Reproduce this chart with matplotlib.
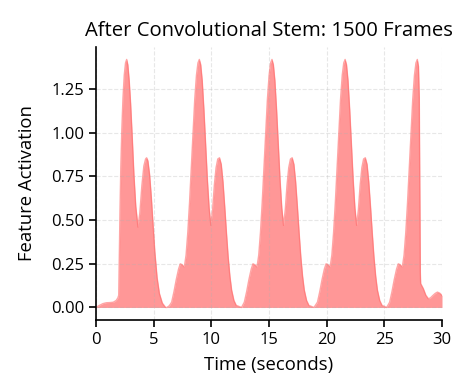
import numpy as np
import matplotlib
matplotlib.use('Agg')
import matplotlib.pyplot as plt
from matplotlib.ticker import MultipleLocator

# --- DADOS (um bloco por ciclo) ---
t_c1 = [0.0, 0.3, 0.6, 0.9, 1.2, 1.5, 1.75, 1.9, 1.97, 2.02, 2.08, 2.15, 2.24, 2.34, 2.45, 2.56,
        2.66, 2.76, 2.88, 3.0, 3.14, 3.29, 3.45, 3.64, 3.8, 3.98, 4.15, 4.3, 4.39, 4.5, 4.65,
        4.8, 4.95, 5.1, 5.3, 5.5, 5.75, 6.04]
v_c1 = [0.0, 0.012, 0.022, 0.027, 0.028, 0.03, 0.04, 0.055, 0.07, 0.3, 0.55, 0.8, 1.02, 1.2, 1.33, 1.40,
        1.42, 1.39, 1.3, 1.17, 0.98, 0.76, 0.58, 0.46, 0.54, 0.70, 0.81, 0.85, 0.857, 0.84, 0.76,
        0.63, 0.47, 0.32, 0.17, 0.08, 0.025, 0.0]

t_c2 = [6.15, 6.36, 6.56, 6.76, 6.96, 7.16, 7.31, 7.46, 7.66, 7.81, 7.96, 8.11, 8.26, 8.41, 8.56,
        8.71, 8.84, 8.96, 9.08, 9.21, 9.36, 9.51, 9.66, 9.81, 9.96, 10.11, 10.26, 10.41, 10.56,
        10.71, 10.86, 11.01, 11.16, 11.31, 11.46, 11.61, 11.76, 11.96, 12.16]
v_c2 = [0.0, 0.01, 0.03, 0.09, 0.16, 0.22, 0.25, 0.245, 0.232, 0.30, 0.43, 0.60, 0.80, 1.00, 1.19,
        1.33, 1.40, 1.42, 1.39, 1.30, 1.13, 0.93, 0.73, 0.57, 0.47, 0.56, 0.70, 0.80, 0.85,
        0.857, 0.82, 0.72, 0.58, 0.43, 0.29, 0.18, 0.10, 0.04, 0.012]

t_c3 = [12.62, 12.86, 13.06, 13.26, 13.46, 13.61, 13.76, 13.96, 14.11, 14.26, 14.41, 14.56, 14.71,
        14.86, 15.01, 15.14, 15.26, 15.38, 15.51, 15.66, 15.81, 15.96, 16.11, 16.26, 16.41, 16.56,
        16.71, 16.86, 17.01, 17.16, 17.31, 17.46, 17.61, 17.76, 17.91, 18.06, 18.26, 18.46]
v_c3 = [0.0, 0.03, 0.09, 0.16, 0.22, 0.25, 0.245, 0.232, 0.30, 0.43, 0.60, 0.80, 1.00,
        1.19, 1.33, 1.40, 1.42, 1.39, 1.30, 1.13, 0.93, 0.73, 0.57, 0.47, 0.56, 0.70,
        0.80, 0.85, 0.857, 0.82, 0.72, 0.58, 0.43, 0.29, 0.18, 0.10, 0.04, 0.012]

t_c4 = [18.9, 19.2, 19.4, 19.6, 19.8, 19.95, 20.1, 20.3, 20.45, 20.6, 20.75, 20.9, 21.05,
        21.2, 21.35, 21.48, 21.6, 21.72, 21.85, 22.0, 22.15, 22.3, 22.45, 22.6, 22.75, 22.9,
        23.05, 23.2, 23.35, 23.5, 23.65, 23.8, 23.95, 24.1, 24.25, 24.4, 24.6, 24.8]
v_c4 = [0.0, 0.03, 0.09, 0.16, 0.22, 0.25, 0.245, 0.232, 0.30, 0.43, 0.60, 0.80, 1.00,
        1.19, 1.33, 1.40, 1.42, 1.39, 1.30, 1.13, 0.93, 0.73, 0.57, 0.47, 0.56, 0.70,
        0.80, 0.85, 0.857, 0.82, 0.72, 0.58, 0.43, 0.29, 0.18, 0.10, 0.04, 0.012]

t_c5 = [25.2, 25.46, 25.66, 25.86, 26.06, 26.21, 26.36, 26.56, 26.71, 26.86, 27.01, 27.16, 27.31,
        27.46, 27.61, 27.74, 27.86, 27.96, 28.03, 28.07, 28.12, 28.15, 28.38, 28.6, 28.82,
        29.0, 29.2, 29.4, 29.6, 29.8, 30.0]
v_c5 = [0.0, 0.03, 0.09, 0.16, 0.22, 0.25, 0.245, 0.232, 0.30, 0.43, 0.60, 0.80, 1.00,
        1.19, 1.33, 1.40, 1.42, 1.38, 1.2, 0.75, 0.2, 0.137, 0.108, 0.07, 0.05,
        0.055, 0.068, 0.08, 0.088, 0.082, 0.069]

t = np.array(t_c1 + t_c2 + t_c3 + t_c4 + t_c5)
y = np.array(v_c1 + v_c2 + v_c3 + v_c4 + v_c5)

plt.rcParams['font.family'] = ['Open Sans', 'DejaVu Sans']

fig = plt.figure(figsize=(4.74, 3.92), dpi=100)
ax = fig.add_axes([0.2025, 0.184, 0.73, 0.696])

ax.fill_between(t, y, color='#FF6B6B', alpha=0.7, linewidth=0)
ax.plot(t, y, color='#FF6B6B', alpha=0.6, linewidth=1)

ax.set_xlim(0, 30)
ax.yaxis.set_major_locator(MultipleLocator(0.25))
ax.yaxis.set_major_formatter(plt.FormatStrFormatter('%.2f'))
ax.set_title('After Convolutional Stem: 1500 Frames', fontsize=14.6, pad=8)
ax.set_xlabel('Time (seconds)', fontsize=13.3, labelpad=6)
ax.set_ylabel('Feature Activation', fontsize=13.3, labelpad=11)
ax.grid(True, alpha=0.3, linestyle='--')
ax.spines['top'].set_visible(False)
ax.spines['right'].set_visible(False)
ax.spines['left'].set_linewidth(1.2)
ax.spines['bottom'].set_linewidth(1.2)
ax.tick_params(labelsize=12, width=1.2, length=5)

fig.savefig('out.png', dpi=100)
